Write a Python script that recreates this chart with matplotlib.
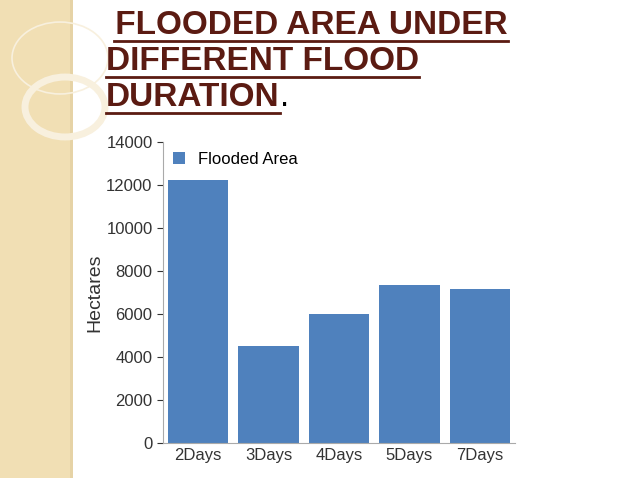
import matplotlib
matplotlib.use("Agg")
import matplotlib.pyplot as plt
from matplotlib.patches import Rectangle, Circle
from matplotlib.lines import Line2D

categories = ["2Days", "3Days", "4Days", "5Days", "7Days"]
flooded_area = [12250, 4500, 6000, 7350, 7150]
yticks = [0, 2000, 4000, 6000, 8000, 10000, 12000, 14000]
title_lines = [" FLOODED AREA UNDER", "DIFFERENT FLOOD", "DURATION"]

plt.rcParams["font.family"] = ["Liberation Sans", "DejaVu Sans"]

fig = plt.figure(figsize=(6.38, 4.78), dpi=100)
fig.patch.set_facecolor("white")

# beige side band with rings
fig.patches.append(Rectangle((0, 0), 70 / 638, 1, transform=fig.transFigure,
                             facecolor="#f1dfb4", edgecolor="none", zorder=0))
fig.patches.append(Rectangle((70 / 638, 0), 3 / 638, 1, transform=fig.transFigure,
                             facecolor="#e6d3a6", edgecolor="none", zorder=0))
for cx, cy, r, lw in [(60, 58, 48, 1.2), (65, 107, 40, 5)]:
    fig.patches.append(Circle((cx / 638, 1 - cy / 478), r / 638, transform=fig.transFigure,
                              facecolor="none", edgecolor="#f8f0de", lw=lw, zorder=1))

# title with underline
brown = "#5b1b12"
renderer = fig.canvas.get_renderer()
for i, line in enumerate(title_lines):
    y = 1 - (25 + i * 36) / 478
    t = fig.text(106 / 638, y, line, fontsize=24, fontweight="bold", color=brown,
                 va="center", ha="left")
    bb = t.get_window_extent(renderer).transformed(fig.transFigure.inverted())
    x0 = bb.x0 + (0.012 if line.startswith(" ") else 0)
    fig.add_artist(Line2D([x0, bb.x1], [bb.y0 - 0.002] * 2, color=brown, lw=2))
    if i == len(title_lines) - 1:
        fig.text(bb.x1, y, ".", fontsize=24, color="black", va="center", ha="left")

ax = fig.add_axes([163 / 638, 35 / 478, 352 / 638, 301 / 478])
x = range(len(categories))
ax.bar(x, flooded_area, width=0.86, color="#4f81bd", label="Flooded Area")
ax.set_xlim(-0.5, len(categories) - 0.5)
ax.set_ylim(0, 14000)
ax.set_yticks(yticks)
ax.set_xticks(list(x))
ax.set_xticklabels(categories)
ax.tick_params(labelsize=12, colors="#333333", length=4)
ax.tick_params(axis="x", length=0)
for s in ["top", "right"]:
    ax.spines[s].set_visible(False)
for s in ["left", "bottom"]:
    ax.spines[s].set_color("#aaaaaa")
ax.set_ylabel("Hectares", fontsize=14, color="#333333", labelpad=2)
ax.legend(loc="upper left", frameon=False, fontsize=12, handlelength=0.7,
          handleheight=0.7, borderaxespad=0.2)

fig.savefig("out.png", dpi=100)
